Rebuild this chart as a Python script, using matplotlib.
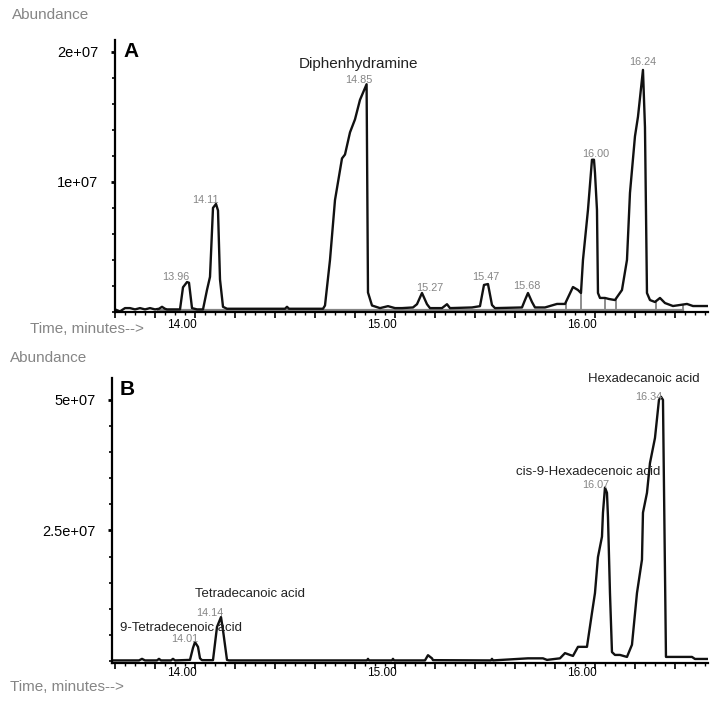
import numpy as np
import matplotlib
matplotlib.use('Agg')
import matplotlib.pyplot as plt
from matplotlib.ticker import MultipleLocator

plt.rcParams['font.family'] = ['Liberation Sans', 'DejaVu Sans']

# ---- panel A: retention time (min) and abundance (x1e6)
time_a = [13.60, 13.625, 13.65, 13.675, 13.70, 13.725, 13.75, 13.775, 13.80, 13.82, 13.835, 13.85,
          13.86, 13.925, 13.94, 13.96, 13.97, 13.985, 14.01, 14.04, 14.06, 14.075, 14.09, 14.105,
          14.115, 14.125, 14.14, 14.16, 14.45, 14.46, 14.47, 14.64, 14.65, 14.675, 14.70, 14.735,
          14.75, 14.775, 14.80, 14.825, 14.858, 14.865, 14.885, 14.925, 14.965, 15.00, 15.035,
          15.09, 15.11, 15.135, 15.16, 15.175, 15.235, 15.26, 15.275, 15.385, 15.425, 15.445,
          15.465, 15.485, 15.50, 15.635, 15.65, 15.665, 15.685, 15.70, 15.75, 15.81, 15.85, 15.89,
          15.915, 15.93, 15.94, 15.965, 15.985, 15.995, 16.00, 16.01, 16.015, 16.025, 16.05, 16.07,
          16.10, 16.135, 16.16, 16.175, 16.20, 16.215, 16.24, 16.25, 16.26, 16.275, 16.30, 16.325,
          16.35, 16.39, 16.46, 16.49, 16.565]
abund_a = [0.2, 0.05, 0.3, 0.3, 0.2, 0.3, 0.2, 0.3, 0.2, 0.25, 0.4, 0.25,
           0.2, 0.2, 1.9, 2.3, 2.25, 0.3, 0.2, 0.2, 1.7, 2.7, 8.0, 8.3,
           7.8, 2.5, 0.4, 0.25, 0.25, 0.4, 0.25, 0.25, 0.5, 4.0, 8.6, 11.8,
           12.1, 13.8, 14.8, 16.3, 17.5, 1.5, 0.5, 0.3, 0.45, 0.3, 0.3,
           0.35, 0.6, 1.46, 0.6, 0.3, 0.3, 0.6, 0.3, 0.35, 0.45, 2.08,
           2.15, 0.54, 0.3, 0.35, 0.92, 1.46, 0.77, 0.35, 0.35, 0.62, 0.62, 1.92,
           1.69, 1.46, 4.0, 7.85, 11.7, 11.7, 10.7, 7.85, 1.46, 1.08, 1.08, 1.0,
           0.92, 1.69, 4.0, 9.15, 13.5, 15.0, 18.6, 14.2, 1.46, 0.92, 0.77, 1.08,
           0.69, 0.46, 0.62, 0.46, 0.46]

# integration baseline and drop lines in panel A (min)
base_a = [13.815, 16.44]
drops_a = [15.855, 15.93, 16.05, 16.105, 16.305, 16.44]

# ---- panel B
time_b = [13.585, 13.72, 13.735, 13.75, 13.81, 13.82, 13.83, 13.88, 13.89, 13.90, 13.975, 13.99,
          14.00, 14.015, 14.025, 14.035, 14.09, 14.11, 14.13, 14.14, 14.16, 14.17, 14.86, 14.865,
          14.87, 14.985, 14.99, 14.995, 15.15, 15.165, 15.185, 15.19, 15.48, 15.485, 15.49, 15.665,
          15.74, 15.76, 15.825, 15.85, 15.875, 15.89, 15.915, 15.96, 15.985, 16.00, 16.015, 16.035,
          16.04, 16.05, 16.06, 16.065, 16.075, 16.085, 16.10, 16.125, 16.16, 16.185, 16.21, 16.235,
          16.24, 16.26, 16.275, 16.30, 16.32, 16.33, 16.34, 16.355, 16.375, 16.485, 16.50, 16.565]
abund_b = [0.1, 0.1, 0.4, 0.1, 0.1, 0.4, 0.1, 0.1, 0.4, 0.1, 0.2, 2.5,
           3.6, 2.7, 0.5, 0.15, 0.15, 6.5, 8.4, 5.9, 0.2, 0.1, 0.1, 0.4,
           0.1, 0.1, 0.4, 0.1, 0.1, 1.1, 0.5, 0.15, 0.1, 0.4, 0.1, 0.5,
           0.5, 0.2, 0.5, 1.5, 1.15, 0.96, 2.7, 2.7, 9.2, 13.0, 19.9, 23.8,
           28.4, 33.2, 32.2, 27.6, 13.0, 1.7, 1.15, 1.15, 0.77, 3.1, 13.0, 19.4,
           28.4, 32.2, 37.9, 42.7, 50.0, 50.6, 50.0, 0.77, 0.77, 0.77, 0.38, 0.38]

# peak labels: apex time, retention-time text, compound name
apex_a = [13.96, 14.105, 14.858, 15.135, 15.465, 15.665, 15.99, 16.24]
rt_a = ['13.96', '14.11', '14.85', '15.27', '15.47', '15.68', '16.00', '16.24']
rt_off_a = [(-11, 5), (-11, 4), (-8, 4), (8, 5), (-2, 7), (-1, 7), (3, 6), (0, 8)]
names_a = {'14.85': ('Diphenhydramine', (-8, 20))}

apex_b = [14.00, 14.13, 16.05, 16.33]
rt_b = ['14.01', '14.14', '16.07', '16.34']
rt_off_b = [(-10, 3), (-11, 4), (-9, 3), (-12, 0)]
names_b = ['9-Tetradecenoic acid', 'Tetradecanoic acid', 'cis-9-Hexadecenoic acid', 'Hexadecanoic acid']
name_off_b = [(-14, 14), (29, 23), (-17, 16), (-17, 18)]

grey = '#858585'
fig = plt.figure(figsize=(7.17, 7.04), dpi=100)
ax_a = fig.add_axes([0.1604, 0.5568, 0.827, 0.3864])
ax_b = fig.add_axes([0.1562, 0.0582, 0.8312, 0.4049])


def style_axis(ax, xlim, ylim, yticks, ylabels, yminor, abund_off, time_off, letter, lbl_dy):
    ax.set_xlim(*xlim)
    ax.set_ylim(*ylim)
    for s in ['top', 'right']:
        ax.spines[s].set_visible(False)
    for s in ['left', 'bottom']:
        ax.spines[s].set_linewidth(1.6)
    ax.set_yticks(yticks)
    ax.set_yticklabels(ylabels, fontsize=10.5)
    ax.yaxis.set_minor_locator(MultipleLocator(yminor))
    ax.xaxis.set_major_locator(MultipleLocator(0.2))
    ax.xaxis.set_minor_locator(MultipleLocator(0.05))
    ax.tick_params(axis='y', which='major', length=3, width=2, pad=9)
    ax.tick_params(axis='y', which='minor', length=2, width=1.2)
    ax.tick_params(axis='x', which='major', length=4, width=1.2, labelbottom=False)
    ax.tick_params(axis='x', which='minor', length=2, width=1)
    for t in [14.0, 15.0, 16.0]:
        ax.annotate('%.2f' % t, xy=(t, 0), xycoords=ax.get_xaxis_transform(),
                    xytext=(-13, -lbl_dy), textcoords='offset pixels',
                    ha='center', va='center', fontsize=8.5)
    ax.annotate('Abundance', xy=(0, 1), xycoords='axes fraction', xytext=abund_off,
                textcoords='offset pixels', ha='left', va='center', fontsize=11, color=grey)
    ax.annotate('Time, minutes-->', xy=(0, 0), xycoords='axes fraction', xytext=time_off,
                textcoords='offset pixels', ha='left', va='center', fontsize=11, color=grey)
    ax.annotate(letter, xy=(0, 1), xycoords='axes fraction', xytext=(8, -12),
                textcoords='offset pixels', ha='left', va='center', fontsize=15,
                fontweight='bold')


# panel A
ta = np.array(time_a)
va = np.array(abund_a) * 1e6
ax_a.plot(base_a, [0.15e6, 0.15e6], color=grey, lw=1.6, zorder=1)
for d in drops_a:
    ax_a.plot([d, d], [0.15e6, np.interp(d, ta, va)], color=grey, lw=1.3, zorder=1)
ax_a.plot(ta, va, color='#111111', lw=1.7, solid_joinstyle='round', zorder=2)
for t, lab, off in zip(apex_a, rt_a, rt_off_a):
    h = np.interp(t, ta, va)
    ax_a.annotate(lab, xy=(t, h), xytext=off, textcoords='offset pixels',
                  ha='center', va='center', fontsize=7.8, color=grey)
    if lab in names_a:
        name, noff = names_a[lab]
        ax_a.annotate(name, xy=(t, h), xytext=noff, textcoords='offset pixels',
                      ha='center', va='center', fontsize=11, color='#222222')
style_axis(ax_a, (13.60, 16.565), (0, 2.09e7), [1e7, 2e7], ['1e+07', '2e+07'], 2e6,
           (-103, 25), (-85, -17), 'A', 13)

# panel B
tb = np.array(time_b)
vb = np.array(abund_b) * 1e6
ax_b.plot(tb, vb, color='#111111', lw=1.7, solid_joinstyle='round')
for t, lab, off, name, noff in zip(apex_b, rt_b, rt_off_b, names_b, name_off_b):
    h = np.interp(t, tb, vb)
    ax_b.annotate(lab, xy=(t, h), xytext=off, textcoords='offset pixels',
                  ha='center', va='center', fontsize=7.8, color=grey)
    ax_b.annotate(name, xy=(t, h), xytext=noff, textcoords='offset pixels',
                  ha='center', va='center', fontsize=9.5, color='#222222')
style_axis(ax_b, (13.585, 16.565), (-0.4e6, 5.42e7), [2.5e7, 5e7], ['2.5e+07', '5e+07'], 5e6,
           (-102, 20), (-102, -24), 'B', 10)

fig.savefig('out.png', dpi=100)
